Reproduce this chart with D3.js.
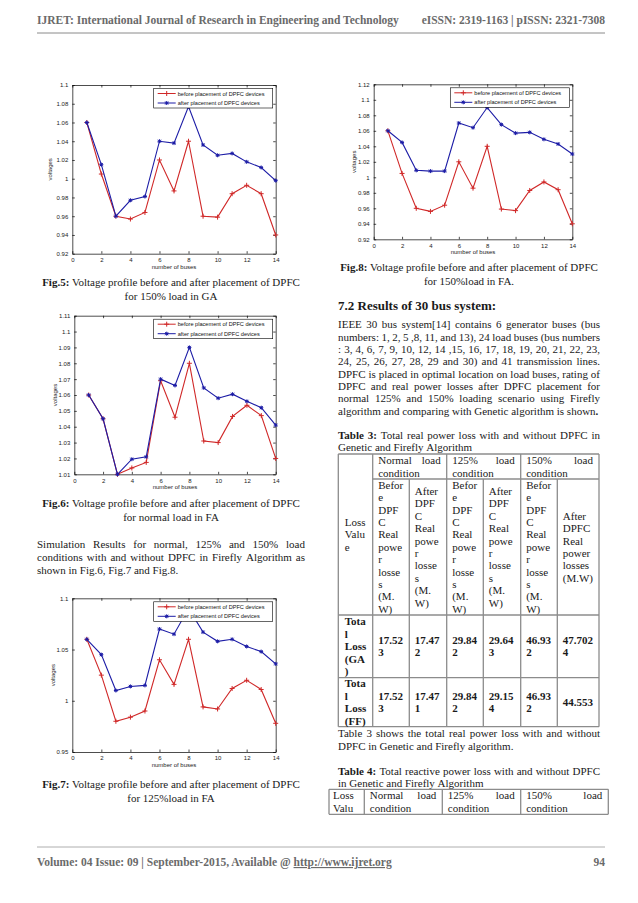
<!DOCTYPE html>
<html>
<head>
<meta charset="utf-8">
<script src="https://cdn.jsdelivr.net/npm/d3@7"></script>
<style>
  body { margin: 0; background: #fff; }
  svg { display: block; }
  text { white-space: pre; }
</style>
</head>
<body>
<div id="page"></div>
<script>
// ---- chart data ----
const buses = [1, 2, 3, 4, 5, 6, 7, 8, 9, 10, 11, 12, 13, 14];
const xTicks = [0, 2, 4, 6, 8, 10, 12, 14];
const legendLabels = ["before placement of DPFC devices", "after placement of DPFC devices"];

// Fig.5 - 150% load, GA
const fig5Before = [1.06, 1.005, 0.96, 0.957, 0.964, 1.02, 0.987, 1.04, 0.96, 0.959, 0.984, 0.993, 0.984, 0.94];
const fig5After = [1.06, 1.015, 0.96, 0.977, 0.981, 1.04, 1.038, 1.077, 1.036, 1.025, 1.027, 1.018, 1.012, 0.998];
const fig5YTicks = [0.92, 0.94, 0.96, 0.98, 1, 1.02, 1.04, 1.06, 1.08, 1.1];

// Fig.6 - normal load, FA
const fig6Before = [1.06, 1.045, 1.01, 1.014, 1.0175, 1.069, 1.046, 1.08, 1.031, 1.030, 1.0465, 1.0535, 1.047, 1.02];
const fig6After = [1.06, 1.045, 1.01, 1.0195, 1.021, 1.07, 1.066, 1.09, 1.0645, 1.058, 1.0605, 1.056, 1.052, 1.041];
const fig6YTicks = [1.01, 1.02, 1.03, 1.04, 1.05, 1.06, 1.07, 1.08, 1.09, 1.1, 1.11];

// Fig.7 - 125% load, FA
const fig7Before = [1.06, 1.025, 0.98, 0.984, 0.99, 1.04, 1.016, 1.06, 0.994, 0.992, 1.012, 1.02, 1.011, 0.978];
const fig7After = [1.06, 1.045, 1.01, 1.014, 1.015, 1.07, 1.065, 1.09, 1.067, 1.058, 1.06, 1.053, 1.048, 1.036];
const fig7YTicks = [0.95, 1, 1.05, 1.1];

// Fig.8 - 150% load, FA
const fig8Before = [1.06, 1.005, 0.96, 0.956, 0.964, 1.02, 0.986, 1.04, 0.959, 0.957, 0.983, 0.994, 0.984, 0.94];
const fig8After = [1.06, 1.045, 1.009, 1.008, 1.008, 1.07, 1.064, 1.09, 1.068, 1.057, 1.058, 1.049, 1.043, 1.03];
const fig8YTicks = [0.92, 0.94, 0.96, 0.98, 1, 1.02, 1.04, 1.06, 1.08, 1.1, 1.12];

// ---- table text ----
const t3Groups = [["Normal load", "condition"], ["125% load", "condition"], ["150% load", "condition"]];
const befor = ["Befor", "e", "DPF", "C", "Real", "powe", "r", "losse", "s", "(M.", "W)"];
const after = ["After", "DPF", "C", "Real", "powe", "r", "losse", "s", "(M.", "W)"];
const t3Heads = [befor, after, befor, after, befor, ["After", "DPFC", "Real", "power", "losses", "(M.W)"]];
const t3RowLabels = [["Tota", "l", "Loss", "(GA", ")"], ["Tota", "l", "Loss", "(FF)"]];
const t3GA = [["17.52", "3"], ["17.47", "2"], ["29.84", "2"], ["29.64", "3"], ["46.93", "2"], ["47.702", "4"]];
const t3FF = [["17.52", "3"], ["17.47", "1"], ["29.84", "2"], ["29.15", "4"], ["46.93", "2"], ["44.553"]];

const SERIF = "Liberation Serif, Times New Roman, serif";
const SANS = "Liberation Sans, Arial, sans-serif";
const FS = 11;
const INK = "#1a1a1a";
const RED = "#d02828";
const BLUE = "#1c1ca6";

const svg = d3.select("#page").append("svg")
    .attr("width", 638)
    .attr("height", 903);

// ---- text helpers ----
// "**" toggles bold; returns words, each a list of {t, bold} parts
function parse(str) {
    let bold = false;
    return str.split(" ").filter((w) => w).map((w) => {
        const parts = [];
        w.split(/(\*\*)/).forEach((s) => {
            if (s === "**") { bold = !bold; return; }
            if (s) parts.push({ t: s, bold });
        });
        return parts;
    });
}

// one line of body text; justified between x0 and x1 unless last
function line(x0, x1, yc, str, last, size) {
    size = size || FS;
    const words = parse(str);
    const g = svg.append("g")
        .attr("font-family", SERIF)
        .attr("font-size", size)
        .attr("fill", INK);
    const els = words.map((parts) => {
        const t = g.append("text").attr("y", yc + size * 0.35);
        parts.forEach((p) => t.append("tspan")
            .attr("font-weight", p.bold ? "bold" : null)
            .text(p.t));
        return t;
    });
    const widths = els.map((e) => e.node().getComputedTextLength());
    const total = d3.sum(widths);
    const space = last || words.length < 2 ? size * 0.25 : (x1 - x0 - total) / (words.length - 1);
    let cx = x0;
    els.forEach((e, i) => { e.attr("x", cx); cx += widths[i] + space; });
}

function paragraph(x0, x1, y0, lh, lines) {
    lines.forEach((l, i) => line(x0, x1, y0 + i * lh, l, i === lines.length - 1));
}

function caption(xc, yc, bold, rest) {
    const t = svg.append("text")
        .attr("x", xc)
        .attr("y", yc + FS * 0.35)
        .attr("text-anchor", "middle")
        .attr("font-family", SERIF)
        .attr("font-size", FS)
        .attr("fill", INK);
    if (bold) t.append("tspan").attr("font-weight", "bold").text(bold);
    t.append("tspan").text(rest);
}

// ---- chart ----
function drawChart(box, yTicks, before, after, ylabOff) {
    const x = d3.scaleLinear().domain([0, 14]).range([box.x0, box.x1]);
    const y = d3.scaleLinear()
        .domain([yTicks[0], yTicks[yTicks.length - 1]])
        .range([box.y1, box.y0]);

    const g = svg.append("g");
    const fmt = (d) => String(d);

    const axes = [
        [d3.axisBottom(x).tickValues(xTicks).tickFormat(fmt), `translate(0,${box.y1})`],
        [d3.axisTop(x).tickValues(xTicks).tickFormat(""), `translate(0,${box.y0})`],
        [d3.axisLeft(y).tickValues(yTicks).tickFormat(fmt), `translate(${box.x0},0)`],
        [d3.axisRight(y).tickValues(yTicks).tickFormat(""), `translate(${box.x1},0)`]
    ];
    axes.forEach(([ax, tr]) => {
        const a = g.append("g")
            .attr("transform", tr)
            .call(ax.tickSizeInner(-2.5).tickSizeOuter(0).tickPadding(4));
        a.attr("font-size", 6).attr("font-family", SANS);
        a.selectAll("path, line").attr("stroke", "#000").attr("stroke-width", 0.7);
        a.selectAll("text").attr("fill", "#222");
    });

    const path = d3.line()
        .x((d, i) => x(buses[i]))
        .y((d) => y(d));

    const plus = "M-2.5,0H2.5M0,-2.5V2.5";
    const star = "M-2,0H2M0,-2V2M-1.5,-1.5L1.5,1.5M-1.5,1.5L1.5,-1.5";

    [[before, RED, plus], [after, BLUE, star]].forEach(([vals, col, mk]) => {
        g.append("path")
            .attr("d", path(vals))
            .attr("fill", "none")
            .attr("stroke", col)
            .attr("stroke-width", 1.1);
        g.selectAll(null)
            .data(vals)
            .join("path")
            .attr("transform", (d, i) => `translate(${x(buses[i])},${y(d)})`)
            .attr("d", mk)
            .attr("stroke", col)
            .attr("stroke-width", 1);
    });

    // legend
    const lw = 119, lh = 19.5;
    const lx = box.x1 - 3 - lw, ly = box.y0 + 3.5;
    const lg = g.append("g");
    lg.append("rect")
        .attr("x", lx).attr("y", ly)
        .attr("width", lw).attr("height", lh)
        .attr("fill", "#fff")
        .attr("stroke", "#000")
        .attr("stroke-width", 0.6);
    [[RED, plus], [BLUE, star]].forEach(([col, mk], i) => {
        const ry = ly + 5 + i * 9.5;
        lg.append("line")
            .attr("x1", lx + 4).attr("x2", lx + 22)
            .attr("y1", ry).attr("y2", ry)
            .attr("stroke", col).attr("stroke-width", 1);
        lg.append("path")
            .attr("transform", `translate(${lx + 13},${ry})`)
            .attr("d", mk).attr("stroke", col).attr("stroke-width", 1);
        lg.append("text")
            .attr("x", lx + 24).attr("y", ry + 2)
            .attr("font-family", SANS).attr("font-size", 5.6)
            .attr("fill", "#111")
            .text(legendLabels[i]);
    });

    g.append("text")
        .attr("transform", `translate(${box.x0 + ylabOff},${(box.y0 + box.y1) / 2}) rotate(-90)`)
        .attr("text-anchor", "middle")
        .attr("font-family", SANS).attr("font-size", 6).attr("fill", "#222")
        .text("voltages");
    g.append("text")
        .attr("x", (box.x0 + box.x1) / 2)
        .attr("y", box.y1 + 15)
        .attr("text-anchor", "middle")
        .attr("font-family", SANS).attr("font-size", 6).attr("fill", "#222")
        .text("number of buses");
}

drawChart({ x0: 72.3, x1: 275.7, y0: 85, y1: 253.7 }, fig5YTicks, fig5Before, fig5After, -20);
drawChart({ x0: 74.3, x1: 275.7, y0: 315.7, y1: 474.3 }, fig6YTicks, fig6Before, fig6After, -17);
drawChart({ x0: 72.3, x1: 275.7, y0: 598.3, y1: 752 }, fig7YTicks, fig7Before, fig7After, -17.5);
drawChart({ x0: 373.7, x1: 572.3, y0: 84.3, y1: 239.3 }, fig8YTicks, fig8Before, fig8After, -18);

// ---- running header / footer ----
const grey = "#6a6a6a";
svg.append("text")
    .attr("x", 37).attr("y", 24)
    .attr("font-family", SERIF).attr("font-size", 11.5).attr("font-weight", "bold").attr("fill", grey)
    .text("IJRET: International Journal of Research in Engineering and Technology");
svg.append("text")
    .attr("x", 605).attr("y", 24).attr("text-anchor", "end")
    .attr("font-family", SERIF).attr("font-size", 11.5).attr("font-weight", "bold").attr("fill", grey)
    .text("eISSN: 2319-1163 | pISSN: 2321-7308");
svg.append("line")
    .attr("x1", 37).attr("x2", 605).attr("y1", 33).attr("y2", 33)
    .attr("stroke", "#8a8a8a").attr("stroke-width", 1);

svg.append("line")
    .attr("x1", 37).attr("x2", 605).attr("y1", 847).attr("y2", 847)
    .attr("stroke", "#9a9a9a").attr("stroke-width", 0.8);
const foot = svg.append("text")
    .attr("x", 37).attr("y", 866)
    .attr("font-family", SERIF).attr("font-size", 11.5).attr("font-weight", "bold").attr("fill", grey);
foot.append("tspan").text("Volume: 04 Issue: 09 | September-2015, Available @ ");
foot.append("tspan").attr("text-decoration", "underline").text("http://www.ijret.org");
svg.append("text")
    .attr("x", 605).attr("y", 866).attr("text-anchor", "end")
    .attr("font-family", SERIF).attr("font-size", 11.5).attr("font-weight", "bold").attr("fill", grey)
    .text("94");

// ---- left column text ----
const LX0 = 37, LX1 = 305, LC = 171;
caption(LC, 282, "Fig.5:", " Voltage profile before and after placement of DPFC");
caption(LC, 296, "", "for 150% load in GA");
caption(LC, 503, "Fig.6:", " Voltage profile before and after placement of DPFC");
caption(LC, 517, "", "for normal load in FA");
paragraph(LX0, LX1, 544, 13.3, [
    "Simulation Results for normal, 125% and 150% load",
    "conditions with and without DPFC in Firefly Algorithm as",
    "shown in Fig.6, Fig.7 and Fig.8."
]);
caption(LC, 784, "Fig.7:", " Voltage profile before and after placement of DPFC");
caption(LC, 798, "", "for 125%load in FA");

// ---- right column text ----
const RX0 = 338, RX1 = 600, RC = 469;
caption(RC, 267, "Fig.8:", " Voltage profile before and after placement of DPFC");
caption(RC, 281, "", "for 150%load in FA.");
svg.append("text")
    .attr("x", RX0).attr("y", 305 + 4.5)
    .attr("font-family", SERIF).attr("font-size", 13).attr("font-weight", "bold").attr("fill", INK)
    .text("7.2 Results of 30 bus system:");
paragraph(RX0, RX1, 324.3, 12.35, [
    "IEEE 30 bus system[14] contains 6 generator buses (bus",
    "numbers: 1, 2, 5 ,8, 11, and 13), 24 load buses (bus numbers",
    ": 3, 4, 6, 7, 9, 10, 12, 14 ,15, 16, 17, 18, 19, 20, 21, 22, 23,",
    "24, 25, 26, 27, 28, 29 and 30) and 41 transmission lines.",
    "DPFC is placed in optimal location on load buses, rating of",
    "DPFC and real power losses after DPFC placement for",
    "normal 125% and 150% loading scenario using Firefly",
    "algorithm and comparing with Genetic algorithm is shown**.**"
]);
paragraph(RX0, RX1, 435, 12, [
    "**Table 3:** Total real power loss with and without DPFC in",
    "Genetic and Firefly Algorithm"
]);
paragraph(RX0, RX1, 733.3, 12.4, [
    "Table 3 shows the total real power loss with and without",
    "DPFC in Genetic and Firefly algorithm."
]);
paragraph(RX0, RX1, 770.7, 12, [
    "**Table 4:** Total reactive power loss with and without DPFC",
    "in Genetic and Firefly Algorithm"
]);

// ---- tables ----
const TLINE = "#8c8c8c";
function seg(x1, y1, x2, y2) {
    svg.append("line")
        .attr("x1", x1).attr("y1", y1).attr("x2", x2).attr("y2", y2)
        .attr("stroke", TLINE).attr("stroke-width", 1.3);
}
function cell(x, yTop, yBot, lines, bold) {
    const lh = 12.4;
    const y0 = (yTop + yBot) / 2 - (lines.length - 1) * lh / 2;
    lines.forEach((l, i) => {
        svg.append("text")
            .attr("x", x).attr("y", y0 + i * lh + FS * 0.35)
            .attr("font-family", SERIF).attr("font-size", FS)
            .attr("font-weight", bold ? "bold" : null)
            .attr("fill", INK)
            .text(l);
    });
}

const c3 = [338.3, 372.7, 409.3, 446.7, 483.3, 520.7, 557.3, 599];
const r3 = [454, 479, 615, 677.7, 726.7];
seg(c3[0], r3[0], c3[7], r3[0]);
seg(c3[1], r3[1], c3[7], r3[1]);
[2, 3, 4].forEach((k) => seg(c3[0], r3[k], c3[7], r3[k]));
[0, 1, 3, 5, 7].forEach((k) => seg(c3[k], r3[0], c3[k], r3[4]));
[2, 4, 6].forEach((k) => seg(c3[k], r3[1], c3[k], r3[4]));

cell(c3[0] + 6.5, r3[0], r3[2], ["Loss", "Valu", "e"], false);
t3Groups.forEach((gr, i) => {
    const xa = c3[1 + i * 2] + 5.5, xb = c3[3 + i * 2] - 6;
    const yc = (r3[0] + r3[1]) / 2;
    line(xa, xb, yc - 6.2, gr[0], false);
    line(xa, xb, yc + 6.2, gr[1], true);
});
t3Heads.forEach((h, i) => cell(c3[1 + i] + 5.5, r3[1], r3[2], h, false));
t3RowLabels.forEach((lab, r) => cell(c3[0] + 6.5, r3[2 + r], r3[3 + r], lab, true));
[t3GA, t3FF].forEach((row, r) => {
    row.forEach((v, i) => cell(c3[1 + i] + 5.5, r3[2 + r], r3[3 + r], v, true));
});

const c4 = [329, 364.3, 442.3, 520.7, 608.3];
const r4 = [789.3, 814.3];
seg(c4[0], r4[0], c4[4], r4[0]);
seg(c4[0], r4[1], c4[4], r4[1]);
c4.forEach((cx) => seg(cx, r4[0], cx, r4[1]));
cell(c4[0] + 4, r4[0], r4[1], ["Loss", "Valu"], false);
t3Groups.forEach((gr, i) => {
    const xa = c4[1 + i] + 5.5, xb = c4[2 + i] - 6;
    const yc = (r4[0] + r4[1]) / 2;
    line(xa, xb, yc - 6.2, gr[0], false);
    line(xa, xb, yc + 6.2, gr[1], true);
});
</script>
</body>
</html>
